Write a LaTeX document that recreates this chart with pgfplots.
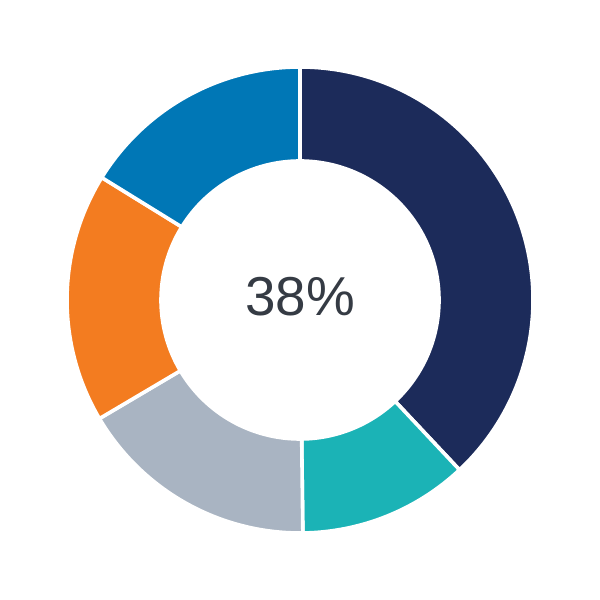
\documentclass[border=0pt]{standalone}
\usepackage{pgfplots}
\pgfplotsset{compat=1.18}
\usepackage{fontspec}
\setmainfont{Liberation Sans}

\definecolor{navy}{HTML}{1C2B5A}
\definecolor{tealc}{HTML}{1BB3B6}
\definecolor{grayc}{HTML}{A9B4C2}
\definecolor{orangec}{HTML}{F37C20}
\definecolor{bluec}{HTML}{0077B6}
\definecolor{txt}{HTML}{353B44}

% one ring segment: start angle, end angle, colour (outer/inner radius in bp)
\newcommand{\seg}[3]{%
  \fill[#3, draw=white, line width=1.8bp]
    ([shift={(#1:116.5bp)}]axis cs:0,0) arc[start angle=#1, end angle=#2, radius=116.5bp]
    -- ([shift={(#2:69.5bp)}]axis cs:0,0) arc[start angle=#2, end angle=#1, radius=69.5bp]
    -- cycle;}

\begin{document}
\begin{tikzpicture}
\begin{axis}[
    scale only axis,
    width=300bp, height=300bp,
    xmin=-300, xmax=300, ymin=-300, ymax=300,
    hide axis,
    clip=false,
]
\path (axis cs:-300,-300) rectangle (axis cs:300,300);
% shares in percent, clockwise from 12 o'clock: 38, 11.8, 16.6, 17.3, 16.3
\seg{90}{-46.8}{navy}
\seg{-46.8}{-89.3}{tealc}
\seg{-89.3}{-149.4}{grayc}
\seg{-149.4}{-211.7}{orangec}
\seg{-211.7}{-270}{bluec}
\node[text=txt, font=\fontsize{27.5}{34}\selectfont] at (axis cs:0,3) {38\%};
\end{axis}
\end{tikzpicture}
\end{document}
